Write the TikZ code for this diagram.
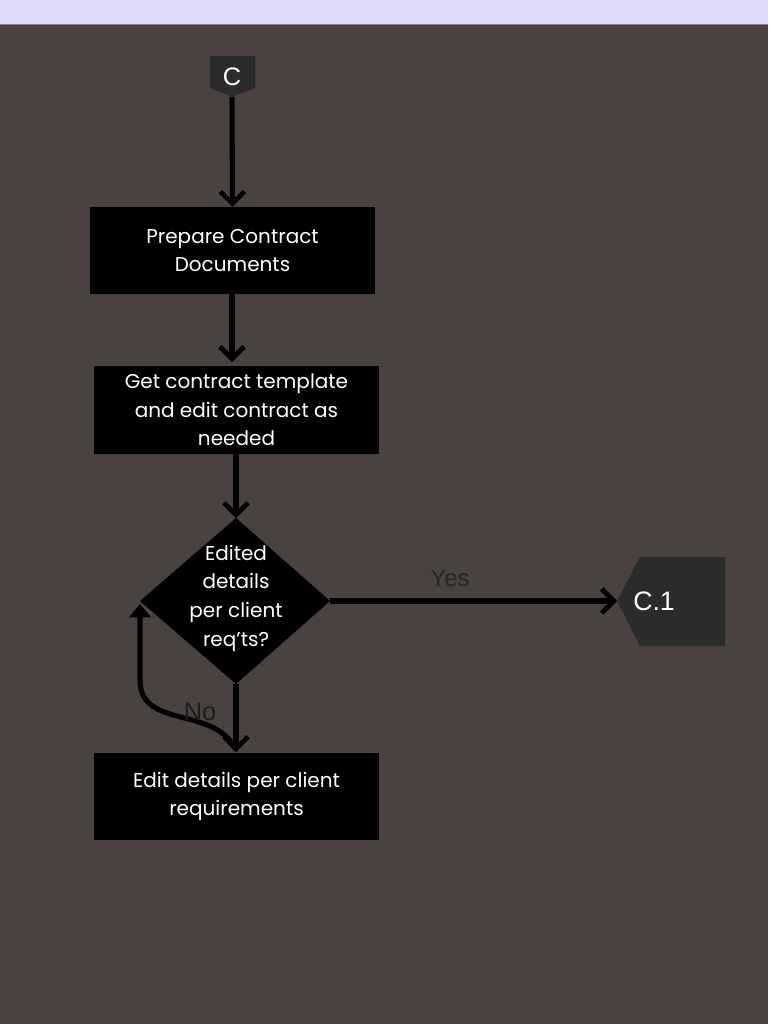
\documentclass[tikz,border=0pt]{standalone}
\usepackage{fontspec}
\setmainfont{Poppins}
\newfontfamily\lib{Liberation Sans}
\begin{document}
\begin{tikzpicture}[x=0.75pt,y=-0.75pt,
 box/.style={fill=black,draw=none,text=white,align=center,font=\fontsize{15}{21.5}\selectfont},
 conn/.style={line width=3.8pt,draw=black,-{Straight Barb[length=9pt,width=18pt,line width=3.5pt]}}]
\usetikzlibrary{arrows.meta}
\useasboundingbox (0,0) rectangle (768,1024);
\fill[fill={rgb,255:red,74;green,66;blue,64}] (0,0) rectangle (768,1024);
\fill[fill={rgb,255:red,222;green,218;blue,250}] (0,0) rectangle (768,24);
\draw[gray,line width=1pt] (0,24.5) -- (768,24.5);
\fill[fill={rgb,255:red,43;green,43;blue,43}] (210,56) -- (255,56) -- (255,88) -- (232,97) -- (210,88) -- cycle;
\node[text=white,font=\lib\fontsize{19}{20}\selectfont] (c) at (232,77) {C};
\coordinate (cb) at (232,97);
\node[box,minimum width=214pt,minimum height=65pt] (b1) at (232.5,250.5) {Prepare Contract\\Documents};
\node[box,minimum width=214pt,minimum height=66pt] (b2) at (236.5,410) {Get contract template\\and edit contract as\\needed};
\fill[black] (236,518) -- (330,601) -- (236,684) -- (140,601) -- cycle;
\node[text=white,align=center,font=\fontsize{15}{21.5}\selectfont] (d) at (236,598) {Edited\\details\\per client\\req’ts?};
\coordinate (dt) at (236,518); \coordinate (db) at (236,684);
\coordinate (dl) at (140,604); \coordinate (dr) at (330,601);
\node[box,minimum width=214pt,minimum height=65pt] (b3) at (236.5,796.5) {Edit details per client\\requirements};
\fill[fill={rgb,255:red,43;green,43;blue,43}] (617,601) -- (640,557) -- (725,557) -- (725,646) -- (640,646) -- cycle;
\node[text=white,font=\lib\fontsize{20}{22}\selectfont] (c1) at (654,601) {C.1};
\coordinate (c1l) at (617,601);
\draw[conn] (cb) -- (b1.north);
\draw[conn] (232,294) -- (232,362);
\draw[conn] (236,454) -- (dt);
\draw[line width=3.8pt,draw=black] (dr) -- (610,601);
\draw[conn] (dr) -- (c1l);
\draw[conn] (db) -- (236,752);
\draw[line width=3.8pt,-{Triangle[length=10pt,width=16pt]}] (236,750) .. controls (215,705) and (140,730) .. (140,680) -- (dl);
\node[font=\lib\fontsize{18}{20}\selectfont,text=black!85] (yes) at (450,578) {Yes};
\node[font=\lib\fontsize{19}{20}\selectfont,text={rgb,255:red,30;green,30;blue,30}] (no) at (200,712) {No};
\end{tikzpicture}
\end{document}
